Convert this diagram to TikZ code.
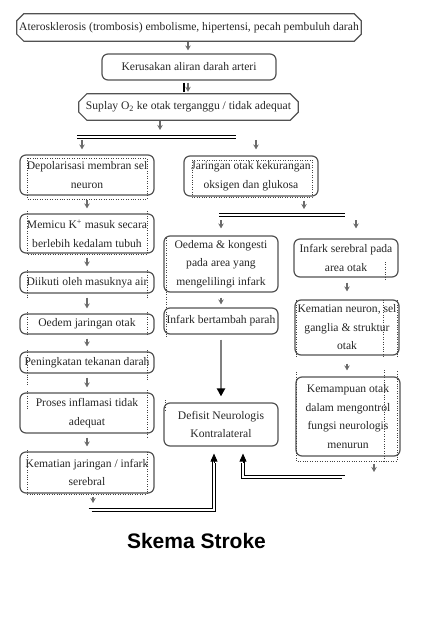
\documentclass[tikz,border=0pt]{standalone}
\usepackage{fontspec}
\setmainfont{Liberation Serif}
\newfontfamily\titlefont{Liberation Sans}
\usetikzlibrary{arrows.meta}
\begin{document}
\begin{tikzpicture}[x=1pt,y=-1pt,
  every node/.style={font=\fontsize{11.6}{18.5}\selectfont, text=black!85, inner sep=0pt, align=center},
  rbox/.style={draw=black!68, line width=1.2pt, rounded corners=6pt, minimum width=134pt},
  obox/.style={draw=none},
  oct/.style={draw=black!68, line width=1.2pt},
  arr/.style={draw=black!58, line width=1.2pt, -{Stealth[length=5pt,width=5.5pt]}},
  rail/.style={draw=black, line width=0.9pt},
  railA/.style={rail, transform canvas={yshift=1.5pt}},
  railB/.style={rail, transform canvas={yshift=-1.5pt}},
  tipblack/.style={draw=black, line width=0.8pt, -{Triangle[length=8pt,width=7pt]}},
  bigarr/.style={draw=black!50, line width=2.6pt, -{Triangle[length=8pt,width=8pt,color=black]}},
  frame/.style={draw=black!75, line width=0.45pt, dotted},
]
\useasboundingbox (0,0) rectangle (424,620);

% top chain
\node[obox, minimum width=344pt, minimum height=27pt] (n1) at (189,27.5) {Aterosklerosis (trombosis) embolisme, hipertensi, pecah pembuluh darah};
\node[rbox, minimum width=174pt, minimum height=26pt] (n2) at (189,67) {Kerusakan aliran darah arteri};
\node[obox, minimum width=219pt, minimum height=26pt] (n3) at (188.5,107) {Suplay O\textsubscript{2} ke otak terganggu / tidak adequat};
\foreach \n/\c in {n1/7pt,n3/8pt}
  \draw[oct] ([xshift=\c]\n.north west) -- ([xshift=-\c]\n.north east) -- ([yshift=-\c]\n.north east)
    -- ([yshift=\c]\n.south east) -- ([xshift=-\c]\n.south east) -- ([xshift=\c]\n.south west)
    -- ([yshift=\c]\n.south west) -- ([yshift=-\c]\n.north west) -- cycle;

% left column
\node[rbox, minimum height=40pt] (n4) at (87,175) {Depolarisasi membran sel\\neuron};
\node[rbox, minimum height=39pt] (n5) at (87,233.5) {Memicu K\textsuperscript{+} masuk secara\\berlebih kedalam tubuh};
\node[rbox, minimum height=21pt] (n6) at (87,282.5) {Diikuti oleh masuknya air};
\node[rbox, minimum height=20pt] (n7) at (87,324) {Oedem jaringan otak};
\node[rbox, minimum height=21pt] (n8) at (87,362.5) {Peningkatan tekanan darah};
\node[rbox, minimum height=40pt] (n9) at (87,413) {Proses inflamasi tidak\\adequat};
\node[rbox, minimum height=41pt] (n10) at (87,472.5) {Kematian jaringan / infark\\serebral};

% middle column
\node[rbox, minimum height=40pt] (n11) at (251,176) {Jaringan otak kekurangan\\oksigen dan glukosa};
\node[rbox, minimum width=114pt, minimum height=56pt] (n12) at (221,264) {Oedema \& kongesti\\pada area yang\\mengelilingi infark};
\node[rbox, minimum width=114pt, minimum height=26pt] (n13) at (221,321) {Infark bertambah parah};
\node[rbox, minimum width=114pt, minimum height=43pt] (n14) at (221,424.5) {Defisit Neurologis\\Kontralateral};

% right column
\node[rbox, minimum width=104pt, minimum height=38pt] (n15) at (346,258) {Infark serebral pada\\area otak};
\node[rbox, minimum width=104pt, minimum height=55pt] (n16) at (347,327.5) {Kematian neuron, sel\\ganglia \& struktur\\otak};
\node[rbox, minimum width=104pt, minimum height=79pt] (n17) at (348,416.5) {Kemampuan otak\\dalam mengontrol\\fungsi neurologis\\menurun};

% title
\node[font=\titlefont\bfseries\fontsize{21}{21}\selectfont, text=black] (title) at (196.5,541) {Skema Stroke};

% bars (double rules)
\coordinate (b1L) at (77,136.5); \coordinate (b1R) at (236,136.5);
\coordinate (b2L) at (219,214.5); \coordinate (b2R) at (345,214.5);
\draw[railA] (b1L) -- (b1R); \draw[railB] (b1L) -- (b1R);
\draw[railA] (b2L) -- (b2R); \draw[railB] (b2L) -- (b2R);

% small arrows
\draw[arr, shorten <=1pt, shorten >=3pt] ([xshift=-1pt]n1.south) -- ([xshift=-1pt]n2.north);
\draw[line width=1.3pt] ([xshift=-5pt]n2.south) ++(0,2) -- ++(0,9);
\draw[arr, shorten <=2pt, shorten >=2pt] ([xshift=-1pt]n2.south) -- ([xshift=-0.5pt]n3.north);
\coordinate (b1a) at (160,136.5);
\draw[arr, shorten <=1pt, shorten >=6.5pt] ([xshift=-28.5pt]n3.south) -- (b1a);
\coordinate (b1b) at (82,136.5);
\coordinate (b1c) at (256,136.5);
\draw[arr, shorten <=3.5pt, shorten >=5pt] (b1b) -- ([xshift=-5pt]n4.north);
\draw[arr, shorten <=3.5pt, shorten >=6pt] (b1c) -- ([xshift=5pt]n11.north);
\foreach \a/\b in {n4/n5,n5/n6,n6/n7,n7/n8,n8/n9,n9/n10}
  \draw[arr, shorten <=4pt, shorten >=5pt] (\a.south) -- (\b.north);

\coordinate (b2a) at (304,214.5);
\coordinate (b2b) at (221,214.5);
\coordinate (b2c) at (356,214.5);
\draw[arr, shorten <=4pt, shorten >=5.5pt] ([xshift=53pt]n11.south) -- (b2a);
\draw[arr, shorten <=5.5pt, shorten >=7pt] (b2b) -- (n12.north);
\draw[arr, shorten <=5.5pt, shorten >=10pt] (b2c) -- ([xshift=10pt]n15.north);
\draw[arr, shorten <=5pt, shorten >=3pt] (n12.south) -- (n13.north);
\draw[arr, shorten <=5pt, shorten >=8pt] ([xshift=1pt]n15.south) -- (n16.north);
\draw[arr, shorten <=8pt, shorten >=6pt] (n16.south) -- ([xshift=-1pt]n17.north);
\draw[bigarr, shorten <=5pt, shorten >=6pt] (n13.south) -- (n14.north);

% bottom connectors
\coordinate (e1) at (93,503);
\coordinate (e2) at (374,472);
\draw[arr, shorten <=3pt] ([xshift=6pt]n10.south) -- (e1);
\draw[arr, shorten <=7pt] ([xshift=26pt]n17.south) -- (e2);
\coordinate (c1) at (90,509.5);
\coordinate (c2) at (343,476.5);
\draw[rail, transform canvas={xshift=1.5pt,yshift=-1.5pt}] (c1) -| ([xshift=-7pt,yshift=-15pt]n14.south);
\draw[rail, transform canvas={xshift=-1.5pt,yshift=1.5pt}] (c1) -| ([xshift=-7pt,yshift=-15pt]n14.south);
\draw[tipblack] ([xshift=-7pt,yshift=-16pt]n14.south) -- ([xshift=-7pt,yshift=-7pt]n14.south);
\draw[rail, transform canvas={xshift=-1.5pt,yshift=-1.5pt}] (c2) -| ([xshift=22pt,yshift=-15pt]n14.south);
\draw[rail, transform canvas={xshift=1.5pt,yshift=1.5pt}] (c2) -| ([xshift=22pt,yshift=-15pt]n14.south);
\draw[tipblack] ([xshift=22pt,yshift=-16pt]n14.south) -- ([xshift=22pt,yshift=-7pt]n14.south);

% dotted text frames
\draw[frame] (27,158) rectangle (147,199);
\draw[frame] (27,211) -- (27,254) -- (147,254) -- (147,211);
\draw[frame] (27,270) -- (27,297); \draw[frame] (147,270) -- (147,297);
\draw[frame] (27,312) -- (27,336); \draw[frame] (147,312) -- (147,336);
\draw[frame] (27,350) -- (27,386); \draw[frame] (147,350) -- (147,380);
\draw[frame] (27,391) -- (27,410); \draw[frame] (147,390) -- (147,437);
\draw[frame] (27,450) -- (27,494) -- (147,494) -- (147,450);
\draw[frame] (192,160) rectangle (312,197);
\draw[frame] (166,238) -- (166,338);
\draw[frame] (165,400) -- (165,412);
\draw[frame] (385,262) -- (385,280);
\draw[frame] (296,300) -- (296,358); \draw[frame] (383,300) -- (383,358); \draw[frame] (397,300) -- (397,358);
\draw[frame] (296,372) -- (296,461) -- (397,461) -- (397,370);
\draw[frame] (384,370) -- (384,461);
\end{tikzpicture}
\end{document}
